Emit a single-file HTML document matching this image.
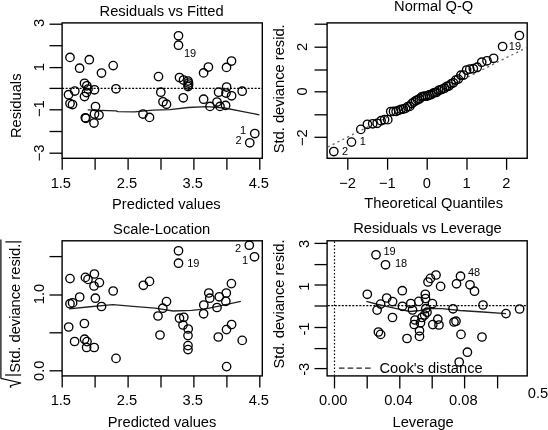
<!DOCTYPE html>
<html><head><meta charset="utf-8"><style>
html,body{margin:0;padding:0;background:#fff;}
svg{display:block;}
text{font-family:"Liberation Sans", Arial, Helvetica, sans-serif;}
</style></head><body>
<svg width="548" height="430" viewBox="0 0 548 430">
<rect width="548" height="430" fill="#fff"/>
<rect x="62.10" y="22.90" width="200.20" height="135.40" fill="none" stroke="#000" stroke-width="1.4"/>
<line x1="62.20" y1="158.30" x2="62.20" y2="169.80" stroke="#000" stroke-width="1.3"/>
<line x1="95.10" y1="158.30" x2="95.10" y2="169.80" stroke="#000" stroke-width="1.3"/>
<line x1="128.10" y1="158.30" x2="128.10" y2="169.80" stroke="#000" stroke-width="1.3"/>
<line x1="161.00" y1="158.30" x2="161.00" y2="169.80" stroke="#000" stroke-width="1.3"/>
<line x1="193.90" y1="158.30" x2="193.90" y2="169.80" stroke="#000" stroke-width="1.3"/>
<line x1="226.90" y1="158.30" x2="226.90" y2="169.80" stroke="#000" stroke-width="1.3"/>
<line x1="259.80" y1="158.30" x2="259.80" y2="169.80" stroke="#000" stroke-width="1.3"/>
<text x="50.64" y="187.50" text-anchor="start" font-size="14.7" fill="#000">1.5</text>
<text x="116.73" y="187.50" text-anchor="start" font-size="14.7" fill="#000">2.5</text>
<text x="182.62" y="187.50" text-anchor="start" font-size="14.7" fill="#000">3.5</text>
<text x="248.63" y="187.50" text-anchor="start" font-size="14.7" fill="#000">4.5</text>
<line x1="49.50" y1="24.20" x2="62.10" y2="24.20" stroke="#000" stroke-width="1.3"/>
<line x1="49.50" y1="45.70" x2="62.10" y2="45.70" stroke="#000" stroke-width="1.3"/>
<line x1="49.50" y1="67.60" x2="62.10" y2="67.60" stroke="#000" stroke-width="1.3"/>
<line x1="49.50" y1="88.40" x2="62.10" y2="88.40" stroke="#000" stroke-width="1.3"/>
<line x1="49.50" y1="109.80" x2="62.10" y2="109.80" stroke="#000" stroke-width="1.3"/>
<line x1="49.50" y1="131.50" x2="62.10" y2="131.50" stroke="#000" stroke-width="1.3"/>
<line x1="49.50" y1="153.20" x2="62.10" y2="153.20" stroke="#000" stroke-width="1.3"/>
<text x="43.60" y="26.94" text-anchor="start" font-size="14.7" fill="#000" transform="rotate(-90 43.60 26.94)">3</text>
<text x="43.60" y="71.28" text-anchor="start" font-size="14.7" fill="#000" transform="rotate(-90 43.60 71.28)">1</text>
<text x="43.60" y="116.97" text-anchor="start" font-size="14.7" fill="#000" transform="rotate(-90 43.60 116.97)">−1</text>
<text x="43.60" y="161.21" text-anchor="start" font-size="14.7" fill="#000" transform="rotate(-90 43.60 161.21)">−3</text>
<text x="99.59" y="16.30" text-anchor="start" font-size="14.7" fill="#000">Residuals vs Fitted</text>
<text x="112.09" y="209.00" text-anchor="start" font-size="14.7" fill="#000">Predicted values</text>
<text x="21.20" y="138.01" text-anchor="start" font-size="14.7" fill="#000" transform="rotate(-90 21.20 138.01)">Residuals</text>
<line x1="62.10" y1="88.30" x2="262.30" y2="88.30" stroke="#000" stroke-width="1.2" stroke-dasharray="2,1.5"/>
<polyline points="87.70,109.90 100.00,110.30 116.00,110.80 118.00,111.70 134.70,111.80 153.00,110.20 170.00,109.70 188.20,107.50 206.50,106.60 224.70,108.00 243.00,111.70 259.40,114.80" fill="none" stroke="#222" stroke-width="1.3" stroke-linejoin="round"/>
<circle cx="70.00" cy="57.40" r="4.2" fill="none" stroke="#000" stroke-width="1.35"/>
<circle cx="89.30" cy="59.70" r="4.2" fill="none" stroke="#000" stroke-width="1.35"/>
<circle cx="79.60" cy="68.20" r="4.2" fill="none" stroke="#000" stroke-width="1.35"/>
<circle cx="113.20" cy="65.60" r="4.2" fill="none" stroke="#000" stroke-width="1.35"/>
<circle cx="101.50" cy="73.00" r="4.2" fill="none" stroke="#000" stroke-width="1.35"/>
<circle cx="84.50" cy="83.30" r="4.2" fill="none" stroke="#000" stroke-width="1.35"/>
<circle cx="86.80" cy="85.80" r="4.2" fill="none" stroke="#000" stroke-width="1.35"/>
<circle cx="88.00" cy="89.00" r="4.2" fill="none" stroke="#000" stroke-width="1.35"/>
<circle cx="86.50" cy="92.50" r="4.2" fill="none" stroke="#000" stroke-width="1.35"/>
<circle cx="84.50" cy="96.50" r="4.2" fill="none" stroke="#000" stroke-width="1.35"/>
<circle cx="94.50" cy="89.80" r="4.2" fill="none" stroke="#000" stroke-width="1.35"/>
<circle cx="74.80" cy="91.00" r="4.2" fill="none" stroke="#000" stroke-width="1.35"/>
<circle cx="68.50" cy="94.70" r="4.2" fill="none" stroke="#000" stroke-width="1.35"/>
<circle cx="116.00" cy="88.80" r="4.2" fill="none" stroke="#000" stroke-width="1.35"/>
<circle cx="70.00" cy="103.50" r="4.2" fill="none" stroke="#000" stroke-width="1.35"/>
<circle cx="72.50" cy="104.50" r="4.2" fill="none" stroke="#000" stroke-width="1.35"/>
<circle cx="95.50" cy="106.50" r="4.2" fill="none" stroke="#000" stroke-width="1.35"/>
<circle cx="94.50" cy="114.00" r="4.2" fill="none" stroke="#000" stroke-width="1.35"/>
<circle cx="99.00" cy="115.00" r="4.2" fill="none" stroke="#000" stroke-width="1.35"/>
<circle cx="85.30" cy="117.80" r="4.2" fill="none" stroke="#000" stroke-width="1.35"/>
<circle cx="85.90" cy="118.30" r="4.2" fill="none" stroke="#000" stroke-width="1.35"/>
<circle cx="94.00" cy="123.00" r="4.2" fill="none" stroke="#000" stroke-width="1.35"/>
<circle cx="143.00" cy="114.00" r="4.2" fill="none" stroke="#000" stroke-width="1.35"/>
<circle cx="149.50" cy="117.40" r="4.2" fill="none" stroke="#000" stroke-width="1.35"/>
<circle cx="158.50" cy="76.60" r="4.2" fill="none" stroke="#000" stroke-width="1.35"/>
<circle cx="178.50" cy="35.80" r="4.2" fill="none" stroke="#000" stroke-width="1.35"/>
<circle cx="178.50" cy="45.20" r="4.2" fill="none" stroke="#000" stroke-width="1.35"/>
<circle cx="179.50" cy="77.50" r="4.2" fill="none" stroke="#000" stroke-width="1.35"/>
<circle cx="183.50" cy="80.00" r="4.2" fill="none" stroke="#000" stroke-width="1.35"/>
<circle cx="188.00" cy="81.00" r="4.2" fill="none" stroke="#000" stroke-width="1.35"/>
<circle cx="188.50" cy="83.00" r="4.2" fill="none" stroke="#000" stroke-width="1.35"/>
<circle cx="188.50" cy="85.00" r="4.2" fill="none" stroke="#000" stroke-width="1.35"/>
<circle cx="188.00" cy="86.50" r="4.2" fill="none" stroke="#000" stroke-width="1.35"/>
<circle cx="208.40" cy="67.00" r="4.2" fill="none" stroke="#000" stroke-width="1.35"/>
<circle cx="203.60" cy="72.90" r="4.2" fill="none" stroke="#000" stroke-width="1.35"/>
<circle cx="231.50" cy="61.00" r="4.2" fill="none" stroke="#000" stroke-width="1.35"/>
<circle cx="226.50" cy="67.40" r="4.2" fill="none" stroke="#000" stroke-width="1.35"/>
<circle cx="160.80" cy="92.20" r="4.2" fill="none" stroke="#000" stroke-width="1.35"/>
<circle cx="183.30" cy="97.80" r="4.2" fill="none" stroke="#000" stroke-width="1.35"/>
<circle cx="203.60" cy="99.20" r="4.2" fill="none" stroke="#000" stroke-width="1.35"/>
<circle cx="226.60" cy="87.00" r="4.2" fill="none" stroke="#000" stroke-width="1.35"/>
<circle cx="218.60" cy="92.20" r="4.2" fill="none" stroke="#000" stroke-width="1.35"/>
<circle cx="226.00" cy="93.00" r="4.2" fill="none" stroke="#000" stroke-width="1.35"/>
<circle cx="231.60" cy="95.80" r="4.2" fill="none" stroke="#000" stroke-width="1.35"/>
<circle cx="242.20" cy="91.20" r="4.2" fill="none" stroke="#000" stroke-width="1.35"/>
<circle cx="163.00" cy="101.80" r="4.2" fill="none" stroke="#000" stroke-width="1.35"/>
<circle cx="166.50" cy="104.20" r="4.2" fill="none" stroke="#000" stroke-width="1.35"/>
<circle cx="210.00" cy="106.40" r="4.2" fill="none" stroke="#000" stroke-width="1.35"/>
<circle cx="217.00" cy="102.00" r="4.2" fill="none" stroke="#000" stroke-width="1.35"/>
<circle cx="220.00" cy="106.40" r="4.2" fill="none" stroke="#000" stroke-width="1.35"/>
<circle cx="225.60" cy="105.40" r="4.2" fill="none" stroke="#000" stroke-width="1.35"/>
<circle cx="249.80" cy="142.80" r="4.2" fill="none" stroke="#000" stroke-width="1.35"/>
<circle cx="254.80" cy="133.50" r="4.2" fill="none" stroke="#000" stroke-width="1.35"/>
<text x="183.96" y="56.50" text-anchor="start" font-size="11.0" fill="#000">19</text>
<text x="239.93" y="134.00" text-anchor="start" font-size="11.0" fill="#000">1</text>
<text x="235.44" y="143.70" text-anchor="start" font-size="11.0" fill="#000">2</text>
<rect x="327.10" y="22.90" width="200.10" height="135.40" fill="none" stroke="#000" stroke-width="1.4"/>
<line x1="347.80" y1="158.30" x2="347.80" y2="169.80" stroke="#000" stroke-width="1.3"/>
<text x="339.14" y="187.50" text-anchor="start" font-size="14.7" fill="#000">−2</text>
<line x1="387.60" y1="158.30" x2="387.60" y2="169.80" stroke="#000" stroke-width="1.3"/>
<text x="378.93" y="187.50" text-anchor="start" font-size="14.7" fill="#000">−1</text>
<line x1="427.20" y1="158.30" x2="427.20" y2="169.80" stroke="#000" stroke-width="1.3"/>
<text x="422.82" y="187.50" text-anchor="start" font-size="14.7" fill="#000">0</text>
<line x1="467.00" y1="158.30" x2="467.00" y2="169.80" stroke="#000" stroke-width="1.3"/>
<text x="462.42" y="187.50" text-anchor="start" font-size="14.7" fill="#000">1</text>
<line x1="506.60" y1="158.30" x2="506.60" y2="169.80" stroke="#000" stroke-width="1.3"/>
<text x="502.22" y="187.50" text-anchor="start" font-size="14.7" fill="#000">2</text>
<line x1="314.50" y1="24.20" x2="327.10" y2="24.20" stroke="#000" stroke-width="1.3"/>
<line x1="314.50" y1="47.20" x2="327.10" y2="47.20" stroke="#000" stroke-width="1.3"/>
<line x1="314.50" y1="70.00" x2="327.10" y2="70.00" stroke="#000" stroke-width="1.3"/>
<line x1="314.50" y1="91.80" x2="327.10" y2="91.80" stroke="#000" stroke-width="1.3"/>
<line x1="314.50" y1="114.80" x2="327.10" y2="114.80" stroke="#000" stroke-width="1.3"/>
<line x1="314.50" y1="137.30" x2="327.10" y2="137.30" stroke="#000" stroke-width="1.3"/>
<text x="307.30" y="51.08" text-anchor="start" font-size="14.7" fill="#000" transform="rotate(-90 307.30 51.08)">2</text>
<text x="307.30" y="95.58" text-anchor="start" font-size="14.7" fill="#000" transform="rotate(-90 307.30 95.58)">0</text>
<text x="307.30" y="146.06" text-anchor="start" font-size="14.7" fill="#000" transform="rotate(-90 307.30 146.06)">−2</text>
<text x="394.09" y="10.50" text-anchor="start" font-size="14.7" fill="#000">Normal Q-Q</text>
<text x="364.28" y="208.40" text-anchor="start" font-size="14.7" fill="#000">Theoretical Quantiles</text>
<text x="284.20" y="153.28" text-anchor="start" font-size="14.7" fill="#000" transform="rotate(-90 284.20 153.28)">Std. deviance resid.</text>
<line x1="327.80" y1="147.00" x2="526.50" y2="47.65" stroke="#6a6a6a" stroke-width="1.3" stroke-dasharray="2.2,3.2"/>
<circle cx="333.80" cy="151.50" r="4.2" fill="none" stroke="#000" stroke-width="1.35"/>
<circle cx="351.50" cy="142.10" r="4.2" fill="none" stroke="#000" stroke-width="1.35"/>
<circle cx="360.78" cy="129.39" r="4.2" fill="none" stroke="#000" stroke-width="1.35"/>
<circle cx="367.41" cy="124.29" r="4.2" fill="none" stroke="#000" stroke-width="1.35"/>
<circle cx="372.70" cy="123.75" r="4.2" fill="none" stroke="#000" stroke-width="1.35"/>
<circle cx="377.16" cy="123.32" r="4.2" fill="none" stroke="#000" stroke-width="1.35"/>
<circle cx="381.07" cy="120.72" r="4.2" fill="none" stroke="#000" stroke-width="1.35"/>
<circle cx="384.58" cy="119.63" r="4.2" fill="none" stroke="#000" stroke-width="1.35"/>
<circle cx="387.78" cy="119.63" r="4.2" fill="none" stroke="#000" stroke-width="1.35"/>
<circle cx="390.75" cy="111.51" r="4.2" fill="none" stroke="#000" stroke-width="1.35"/>
<circle cx="393.52" cy="111.40" r="4.2" fill="none" stroke="#000" stroke-width="1.35"/>
<circle cx="396.14" cy="111.40" r="4.2" fill="none" stroke="#000" stroke-width="1.35"/>
<circle cx="398.63" cy="110.31" r="4.2" fill="none" stroke="#000" stroke-width="1.35"/>
<circle cx="401.01" cy="109.34" r="4.2" fill="none" stroke="#000" stroke-width="1.35"/>
<circle cx="403.30" cy="109.01" r="4.2" fill="none" stroke="#000" stroke-width="1.35"/>
<circle cx="405.51" cy="108.25" r="4.2" fill="none" stroke="#000" stroke-width="1.35"/>
<circle cx="407.66" cy="106.63" r="4.2" fill="none" stroke="#000" stroke-width="1.35"/>
<circle cx="409.76" cy="106.41" r="4.2" fill="none" stroke="#000" stroke-width="1.35"/>
<circle cx="411.80" cy="103.60" r="4.2" fill="none" stroke="#000" stroke-width="1.35"/>
<circle cx="413.81" cy="102.08" r="4.2" fill="none" stroke="#000" stroke-width="1.35"/>
<circle cx="415.78" cy="100.67" r="4.2" fill="none" stroke="#000" stroke-width="1.35"/>
<circle cx="417.72" cy="99.91" r="4.2" fill="none" stroke="#000" stroke-width="1.35"/>
<circle cx="419.64" cy="98.72" r="4.2" fill="none" stroke="#000" stroke-width="1.35"/>
<circle cx="421.55" cy="96.88" r="4.2" fill="none" stroke="#000" stroke-width="1.35"/>
<circle cx="423.44" cy="96.33" r="4.2" fill="none" stroke="#000" stroke-width="1.35"/>
<circle cx="425.32" cy="96.01" r="4.2" fill="none" stroke="#000" stroke-width="1.35"/>
<circle cx="427.20" cy="96.01" r="4.2" fill="none" stroke="#000" stroke-width="1.35"/>
<circle cx="429.08" cy="94.93" r="4.2" fill="none" stroke="#000" stroke-width="1.35"/>
<circle cx="430.96" cy="94.71" r="4.2" fill="none" stroke="#000" stroke-width="1.35"/>
<circle cx="432.85" cy="93.41" r="4.2" fill="none" stroke="#000" stroke-width="1.35"/>
<circle cx="434.76" cy="92.54" r="4.2" fill="none" stroke="#000" stroke-width="1.35"/>
<circle cx="436.68" cy="92.33" r="4.2" fill="none" stroke="#000" stroke-width="1.35"/>
<circle cx="438.62" cy="90.37" r="4.2" fill="none" stroke="#000" stroke-width="1.35"/>
<circle cx="440.59" cy="89.83" r="4.2" fill="none" stroke="#000" stroke-width="1.35"/>
<circle cx="442.60" cy="89.07" r="4.2" fill="none" stroke="#000" stroke-width="1.35"/>
<circle cx="444.64" cy="88.21" r="4.2" fill="none" stroke="#000" stroke-width="1.35"/>
<circle cx="446.74" cy="86.36" r="4.2" fill="none" stroke="#000" stroke-width="1.35"/>
<circle cx="448.89" cy="86.04" r="4.2" fill="none" stroke="#000" stroke-width="1.35"/>
<circle cx="451.10" cy="83.87" r="4.2" fill="none" stroke="#000" stroke-width="1.35"/>
<circle cx="453.39" cy="82.79" r="4.2" fill="none" stroke="#000" stroke-width="1.35"/>
<circle cx="455.77" cy="80.08" r="4.2" fill="none" stroke="#000" stroke-width="1.35"/>
<circle cx="458.26" cy="79.10" r="4.2" fill="none" stroke="#000" stroke-width="1.35"/>
<circle cx="460.88" cy="75.20" r="4.2" fill="none" stroke="#000" stroke-width="1.35"/>
<circle cx="463.65" cy="75.09" r="4.2" fill="none" stroke="#000" stroke-width="1.35"/>
<circle cx="466.62" cy="70.00" r="4.2" fill="none" stroke="#000" stroke-width="1.35"/>
<circle cx="469.82" cy="69.13" r="4.2" fill="none" stroke="#000" stroke-width="1.35"/>
<circle cx="473.33" cy="68.70" r="4.2" fill="none" stroke="#000" stroke-width="1.35"/>
<circle cx="477.24" cy="67.18" r="4.2" fill="none" stroke="#000" stroke-width="1.35"/>
<circle cx="481.70" cy="62.20" r="4.2" fill="none" stroke="#000" stroke-width="1.35"/>
<circle cx="486.99" cy="60.79" r="4.2" fill="none" stroke="#000" stroke-width="1.35"/>
<circle cx="493.62" cy="58.30" r="4.2" fill="none" stroke="#000" stroke-width="1.35"/>
<circle cx="502.60" cy="46.50" r="4.2" fill="none" stroke="#000" stroke-width="1.35"/>
<circle cx="519.40" cy="35.50" r="4.2" fill="none" stroke="#000" stroke-width="1.35"/>
<text x="508.86" y="49.50" text-anchor="start" font-size="11.0" fill="#000">19</text>
<text x="359.66" y="144.50" text-anchor="start" font-size="11.0" fill="#000">1</text>
<text x="341.95" y="154.80" text-anchor="start" font-size="11.0" fill="#000">2</text>
<rect x="62.10" y="240.80" width="200.20" height="135.10" fill="none" stroke="#000" stroke-width="1.4"/>
<line x1="62.20" y1="375.90" x2="62.20" y2="387.60" stroke="#000" stroke-width="1.3"/>
<line x1="95.10" y1="375.90" x2="95.10" y2="387.60" stroke="#000" stroke-width="1.3"/>
<line x1="128.10" y1="375.90" x2="128.10" y2="387.60" stroke="#000" stroke-width="1.3"/>
<line x1="161.00" y1="375.90" x2="161.00" y2="387.60" stroke="#000" stroke-width="1.3"/>
<line x1="193.90" y1="375.90" x2="193.90" y2="387.60" stroke="#000" stroke-width="1.3"/>
<line x1="226.90" y1="375.90" x2="226.90" y2="387.60" stroke="#000" stroke-width="1.3"/>
<line x1="259.80" y1="375.90" x2="259.80" y2="387.60" stroke="#000" stroke-width="1.3"/>
<text x="50.64" y="404.60" text-anchor="start" font-size="14.7" fill="#000">1.5</text>
<text x="116.73" y="404.60" text-anchor="start" font-size="14.7" fill="#000">2.5</text>
<text x="182.62" y="404.60" text-anchor="start" font-size="14.7" fill="#000">3.5</text>
<text x="248.63" y="404.60" text-anchor="start" font-size="14.7" fill="#000">4.5</text>
<line x1="49.50" y1="370.80" x2="62.10" y2="370.80" stroke="#000" stroke-width="1.3"/>
<line x1="49.50" y1="332.80" x2="62.10" y2="332.80" stroke="#000" stroke-width="1.3"/>
<line x1="49.50" y1="295.00" x2="62.10" y2="295.00" stroke="#000" stroke-width="1.3"/>
<line x1="49.50" y1="256.60" x2="62.10" y2="256.60" stroke="#000" stroke-width="1.3"/>
<text x="43.60" y="380.91" text-anchor="start" font-size="14.7" fill="#000" transform="rotate(-90 43.60 380.91)">0.0</text>
<text x="43.60" y="304.18" text-anchor="start" font-size="14.7" fill="#000" transform="rotate(-90 43.60 304.18)">1.0</text>
<text x="113.12" y="234.00" text-anchor="start" font-size="14.7" fill="#000">Scale-Location</text>
<text x="107.79" y="427.00" text-anchor="start" font-size="14.7" fill="#000">Predicted values</text>
<text x="0" y="0" font-size="25.5" fill="#000" transform="translate(20.9 388.2) rotate(-90) scale(0.75 1)">√</text>
<line x1="0.90" y1="378.60" x2="0.90" y2="239.60" stroke="#000" stroke-width="1.2"/>
<line x1="5.40" y1="241.90" x2="21.40" y2="241.90" stroke="#000" stroke-width="1.2"/>
<line x1="5.10" y1="375.00" x2="21.10" y2="375.00" stroke="#000" stroke-width="1.2"/>
<text x="20.40" y="372.72" text-anchor="start" font-size="14.7" fill="#000" transform="rotate(-90 20.40 372.72)">Std. deviance resid.</text>
<polyline points="69.10,308.80 87.40,307.00 112.90,304.60 133.00,306.40 155.00,308.20 173.20,311.00 191.50,310.40 204.30,309.20 215.20,306.80 228.00,304.20 240.80,301.30" fill="none" stroke="#222" stroke-width="1.3" stroke-linejoin="round"/>
<circle cx="70.00" cy="278.60" r="4.2" fill="none" stroke="#000" stroke-width="1.35"/>
<circle cx="85.40" cy="277.40" r="4.2" fill="none" stroke="#000" stroke-width="1.35"/>
<circle cx="88.00" cy="279.40" r="4.2" fill="none" stroke="#000" stroke-width="1.35"/>
<circle cx="94.40" cy="274.00" r="4.2" fill="none" stroke="#000" stroke-width="1.35"/>
<circle cx="99.40" cy="282.60" r="4.2" fill="none" stroke="#000" stroke-width="1.35"/>
<circle cx="94.00" cy="286.00" r="4.2" fill="none" stroke="#000" stroke-width="1.35"/>
<circle cx="113.20" cy="291.00" r="4.2" fill="none" stroke="#000" stroke-width="1.35"/>
<circle cx="79.70" cy="297.00" r="4.2" fill="none" stroke="#000" stroke-width="1.35"/>
<circle cx="95.40" cy="298.20" r="4.2" fill="none" stroke="#000" stroke-width="1.35"/>
<circle cx="70.00" cy="303.70" r="4.2" fill="none" stroke="#000" stroke-width="1.35"/>
<circle cx="72.60" cy="302.90" r="4.2" fill="none" stroke="#000" stroke-width="1.35"/>
<circle cx="101.50" cy="306.50" r="4.2" fill="none" stroke="#000" stroke-width="1.35"/>
<circle cx="143.40" cy="285.30" r="4.2" fill="none" stroke="#000" stroke-width="1.35"/>
<circle cx="149.50" cy="281.40" r="4.2" fill="none" stroke="#000" stroke-width="1.35"/>
<circle cx="68.70" cy="327.00" r="4.2" fill="none" stroke="#000" stroke-width="1.35"/>
<circle cx="84.40" cy="323.50" r="4.2" fill="none" stroke="#000" stroke-width="1.35"/>
<circle cx="74.60" cy="341.50" r="4.2" fill="none" stroke="#000" stroke-width="1.35"/>
<circle cx="84.60" cy="339.20" r="4.2" fill="none" stroke="#000" stroke-width="1.35"/>
<circle cx="87.00" cy="341.60" r="4.2" fill="none" stroke="#000" stroke-width="1.35"/>
<circle cx="86.60" cy="347.50" r="4.2" fill="none" stroke="#000" stroke-width="1.35"/>
<circle cx="94.20" cy="347.50" r="4.2" fill="none" stroke="#000" stroke-width="1.35"/>
<circle cx="116.00" cy="358.40" r="4.2" fill="none" stroke="#000" stroke-width="1.35"/>
<circle cx="178.50" cy="250.80" r="4.2" fill="none" stroke="#000" stroke-width="1.35"/>
<circle cx="178.50" cy="263.20" r="4.2" fill="none" stroke="#000" stroke-width="1.35"/>
<circle cx="231.40" cy="283.60" r="4.2" fill="none" stroke="#000" stroke-width="1.35"/>
<circle cx="208.80" cy="293.00" r="4.2" fill="none" stroke="#000" stroke-width="1.35"/>
<circle cx="226.30" cy="293.00" r="4.2" fill="none" stroke="#000" stroke-width="1.35"/>
<circle cx="209.80" cy="298.20" r="4.2" fill="none" stroke="#000" stroke-width="1.35"/>
<circle cx="219.30" cy="296.80" r="4.2" fill="none" stroke="#000" stroke-width="1.35"/>
<circle cx="225.80" cy="301.30" r="4.2" fill="none" stroke="#000" stroke-width="1.35"/>
<circle cx="166.50" cy="301.60" r="4.2" fill="none" stroke="#000" stroke-width="1.35"/>
<circle cx="162.80" cy="308.20" r="4.2" fill="none" stroke="#000" stroke-width="1.35"/>
<circle cx="203.80" cy="305.00" r="4.2" fill="none" stroke="#000" stroke-width="1.35"/>
<circle cx="217.00" cy="307.50" r="4.2" fill="none" stroke="#000" stroke-width="1.35"/>
<circle cx="249.30" cy="245.20" r="4.2" fill="none" stroke="#000" stroke-width="1.35"/>
<circle cx="254.50" cy="256.80" r="4.2" fill="none" stroke="#000" stroke-width="1.35"/>
<circle cx="158.00" cy="316.00" r="4.2" fill="none" stroke="#000" stroke-width="1.35"/>
<circle cx="179.50" cy="318.20" r="4.2" fill="none" stroke="#000" stroke-width="1.35"/>
<circle cx="183.80" cy="317.30" r="4.2" fill="none" stroke="#000" stroke-width="1.35"/>
<circle cx="183.00" cy="325.00" r="4.2" fill="none" stroke="#000" stroke-width="1.35"/>
<circle cx="188.20" cy="329.00" r="4.2" fill="none" stroke="#000" stroke-width="1.35"/>
<circle cx="188.00" cy="335.60" r="4.2" fill="none" stroke="#000" stroke-width="1.35"/>
<circle cx="188.00" cy="345.60" r="4.2" fill="none" stroke="#000" stroke-width="1.35"/>
<circle cx="188.00" cy="349.60" r="4.2" fill="none" stroke="#000" stroke-width="1.35"/>
<circle cx="160.00" cy="335.00" r="4.2" fill="none" stroke="#000" stroke-width="1.35"/>
<circle cx="203.60" cy="313.80" r="4.2" fill="none" stroke="#000" stroke-width="1.35"/>
<circle cx="231.60" cy="324.50" r="4.2" fill="none" stroke="#000" stroke-width="1.35"/>
<circle cx="226.50" cy="329.60" r="4.2" fill="none" stroke="#000" stroke-width="1.35"/>
<circle cx="218.30" cy="337.00" r="4.2" fill="none" stroke="#000" stroke-width="1.35"/>
<circle cx="242.20" cy="340.40" r="4.2" fill="none" stroke="#000" stroke-width="1.35"/>
<circle cx="226.60" cy="366.60" r="4.2" fill="none" stroke="#000" stroke-width="1.35"/>
<text x="187.16" y="267.20" text-anchor="start" font-size="11.0" fill="#000">19</text>
<text x="234.95" y="252.00" text-anchor="start" font-size="11.0" fill="#000">2</text>
<text x="241.96" y="264.00" text-anchor="start" font-size="11.0" fill="#000">1</text>
<rect x="327.10" y="240.80" width="200.10" height="135.10" fill="none" stroke="#000" stroke-width="1.4"/>
<line x1="334.50" y1="375.90" x2="334.50" y2="388.40" stroke="#000" stroke-width="1.3"/>
<line x1="367.20" y1="375.90" x2="367.20" y2="388.40" stroke="#000" stroke-width="1.3"/>
<line x1="399.80" y1="375.90" x2="399.80" y2="388.40" stroke="#000" stroke-width="1.3"/>
<line x1="432.20" y1="375.90" x2="432.20" y2="388.40" stroke="#000" stroke-width="1.3"/>
<line x1="464.60" y1="375.90" x2="464.60" y2="388.40" stroke="#000" stroke-width="1.3"/>
<line x1="497.60" y1="375.90" x2="497.60" y2="388.40" stroke="#000" stroke-width="1.3"/>
<text x="318.90" y="404.60" text-anchor="start" font-size="14.7" fill="#000">0.00</text>
<text x="384.13" y="404.60" text-anchor="start" font-size="14.7" fill="#000">0.04</text>
<text x="449.03" y="404.60" text-anchor="start" font-size="14.7" fill="#000">0.08</text>
<line x1="314.50" y1="243.40" x2="327.10" y2="243.40" stroke="#000" stroke-width="1.3"/>
<line x1="314.50" y1="264.60" x2="327.10" y2="264.60" stroke="#000" stroke-width="1.3"/>
<line x1="314.50" y1="285.00" x2="327.10" y2="285.00" stroke="#000" stroke-width="1.3"/>
<line x1="314.50" y1="306.00" x2="327.10" y2="306.00" stroke="#000" stroke-width="1.3"/>
<line x1="314.50" y1="327.50" x2="327.10" y2="327.50" stroke="#000" stroke-width="1.3"/>
<line x1="314.50" y1="348.60" x2="327.10" y2="348.60" stroke="#000" stroke-width="1.3"/>
<line x1="314.50" y1="368.60" x2="327.10" y2="368.60" stroke="#000" stroke-width="1.3"/>
<text x="309.00" y="248.04" text-anchor="start" font-size="14.7" fill="#000" transform="rotate(-90 309.00 248.04)">3</text>
<text x="309.00" y="290.78" text-anchor="start" font-size="14.7" fill="#000" transform="rotate(-90 309.00 290.78)">1</text>
<text x="309.00" y="335.59" text-anchor="start" font-size="14.7" fill="#000" transform="rotate(-90 309.00 335.59)">-1</text>
<text x="309.00" y="375.83" text-anchor="start" font-size="14.7" fill="#000" transform="rotate(-90 309.00 375.83)">-3</text>
<text x="353.19" y="233.10" text-anchor="start" font-size="14.7" fill="#000">Residuals vs Leverage</text>
<text x="392.49" y="426.50" text-anchor="start" font-size="14.7" fill="#000">Leverage</text>
<text x="284.20" y="368.48" text-anchor="start" font-size="14.7" fill="#000" transform="rotate(-90 284.20 368.48)">Std. deviance resid.</text>
<line x1="334.50" y1="241.50" x2="334.50" y2="375.20" stroke="#000" stroke-width="1.2" stroke-dasharray="1.6,1.9"/>
<line x1="327.80" y1="305.60" x2="526.50" y2="305.60" stroke="#000" stroke-width="1.2" stroke-dasharray="2,1.5"/>
<polyline points="366.40,301.40 378.20,304.50 396.50,308.70 410.00,311.50 420.00,310.50 430.00,308.50 442.00,308.60 460.00,310.50 483.00,312.00 506.00,313.60" fill="none" stroke="#222" stroke-width="1.3" stroke-linejoin="round"/>
<circle cx="376.00" cy="254.80" r="4.2" fill="none" stroke="#000" stroke-width="1.35"/>
<circle cx="385.50" cy="264.80" r="4.2" fill="none" stroke="#000" stroke-width="1.35"/>
<circle cx="460.50" cy="276.20" r="4.2" fill="none" stroke="#000" stroke-width="1.35"/>
<circle cx="367.30" cy="294.30" r="4.2" fill="none" stroke="#000" stroke-width="1.35"/>
<circle cx="402.30" cy="290.70" r="4.2" fill="none" stroke="#000" stroke-width="1.35"/>
<circle cx="386.70" cy="298.00" r="4.2" fill="none" stroke="#000" stroke-width="1.35"/>
<circle cx="392.60" cy="301.60" r="4.2" fill="none" stroke="#000" stroke-width="1.35"/>
<circle cx="380.60" cy="304.10" r="4.2" fill="none" stroke="#000" stroke-width="1.35"/>
<circle cx="377.10" cy="310.10" r="4.2" fill="none" stroke="#000" stroke-width="1.35"/>
<circle cx="402.40" cy="306.30" r="4.2" fill="none" stroke="#000" stroke-width="1.35"/>
<circle cx="392.50" cy="317.50" r="4.2" fill="none" stroke="#000" stroke-width="1.35"/>
<circle cx="410.80" cy="303.50" r="4.2" fill="none" stroke="#000" stroke-width="1.35"/>
<circle cx="418.80" cy="301.40" r="4.2" fill="none" stroke="#000" stroke-width="1.35"/>
<circle cx="425.30" cy="294.30" r="4.2" fill="none" stroke="#000" stroke-width="1.35"/>
<circle cx="425.50" cy="298.50" r="4.2" fill="none" stroke="#000" stroke-width="1.35"/>
<circle cx="428.00" cy="282.00" r="4.2" fill="none" stroke="#000" stroke-width="1.35"/>
<circle cx="430.40" cy="278.40" r="4.2" fill="none" stroke="#000" stroke-width="1.35"/>
<circle cx="436.00" cy="275.00" r="4.2" fill="none" stroke="#000" stroke-width="1.35"/>
<circle cx="440.60" cy="286.40" r="4.2" fill="none" stroke="#000" stroke-width="1.35"/>
<circle cx="432.40" cy="303.60" r="4.2" fill="none" stroke="#000" stroke-width="1.35"/>
<circle cx="412.50" cy="310.00" r="4.2" fill="none" stroke="#000" stroke-width="1.35"/>
<circle cx="425.80" cy="308.60" r="4.2" fill="none" stroke="#000" stroke-width="1.35"/>
<circle cx="427.00" cy="312.20" r="4.2" fill="none" stroke="#000" stroke-width="1.35"/>
<circle cx="424.60" cy="315.00" r="4.2" fill="none" stroke="#000" stroke-width="1.35"/>
<circle cx="422.00" cy="317.50" r="4.2" fill="none" stroke="#000" stroke-width="1.35"/>
<circle cx="415.00" cy="320.00" r="4.2" fill="none" stroke="#000" stroke-width="1.35"/>
<circle cx="420.50" cy="322.80" r="4.2" fill="none" stroke="#000" stroke-width="1.35"/>
<circle cx="414.20" cy="324.50" r="4.2" fill="none" stroke="#000" stroke-width="1.35"/>
<circle cx="437.80" cy="319.20" r="4.2" fill="none" stroke="#000" stroke-width="1.35"/>
<circle cx="432.80" cy="324.60" r="4.2" fill="none" stroke="#000" stroke-width="1.35"/>
<circle cx="439.00" cy="325.00" r="4.2" fill="none" stroke="#000" stroke-width="1.35"/>
<circle cx="407.00" cy="338.50" r="4.2" fill="none" stroke="#000" stroke-width="1.35"/>
<circle cx="419.50" cy="330.80" r="4.2" fill="none" stroke="#000" stroke-width="1.35"/>
<circle cx="419.50" cy="336.40" r="4.2" fill="none" stroke="#000" stroke-width="1.35"/>
<circle cx="378.40" cy="332.00" r="4.2" fill="none" stroke="#000" stroke-width="1.35"/>
<circle cx="380.60" cy="334.40" r="4.2" fill="none" stroke="#000" stroke-width="1.35"/>
<circle cx="456.50" cy="283.80" r="4.2" fill="none" stroke="#000" stroke-width="1.35"/>
<circle cx="470.00" cy="284.80" r="4.2" fill="none" stroke="#000" stroke-width="1.35"/>
<circle cx="474.50" cy="291.20" r="4.2" fill="none" stroke="#000" stroke-width="1.35"/>
<circle cx="453.00" cy="308.80" r="4.2" fill="none" stroke="#000" stroke-width="1.35"/>
<circle cx="483.00" cy="305.00" r="4.2" fill="none" stroke="#000" stroke-width="1.35"/>
<circle cx="506.00" cy="313.60" r="4.2" fill="none" stroke="#000" stroke-width="1.35"/>
<circle cx="519.60" cy="309.00" r="4.2" fill="none" stroke="#000" stroke-width="1.35"/>
<circle cx="454.00" cy="322.00" r="4.2" fill="none" stroke="#000" stroke-width="1.35"/>
<circle cx="456.00" cy="321.20" r="4.2" fill="none" stroke="#000" stroke-width="1.35"/>
<circle cx="461.00" cy="334.40" r="4.2" fill="none" stroke="#000" stroke-width="1.35"/>
<circle cx="482.00" cy="337.00" r="4.2" fill="none" stroke="#000" stroke-width="1.35"/>
<circle cx="467.40" cy="352.20" r="4.2" fill="none" stroke="#000" stroke-width="1.35"/>
<circle cx="459.20" cy="362.00" r="4.2" fill="none" stroke="#000" stroke-width="1.35"/>
<text x="383.46" y="254.80" text-anchor="start" font-size="11.0" fill="#000">19</text>
<text x="394.96" y="266.50" text-anchor="start" font-size="11.0" fill="#000">18</text>
<text x="467.95" y="275.50" text-anchor="start" font-size="11.0" fill="#000">48</text>
<line x1="339.00" y1="368.20" x2="371.50" y2="368.20" stroke="#222" stroke-width="1.2" stroke-dasharray="5.5,3.2"/>
<text x="379.45" y="373.10" text-anchor="start" font-size="14.7" fill="#000">Cook's distance</text>
<text x="527.73" y="398.00" text-anchor="start" font-size="14.7" fill="#000">0.5</text>
</svg>
</body></html>
